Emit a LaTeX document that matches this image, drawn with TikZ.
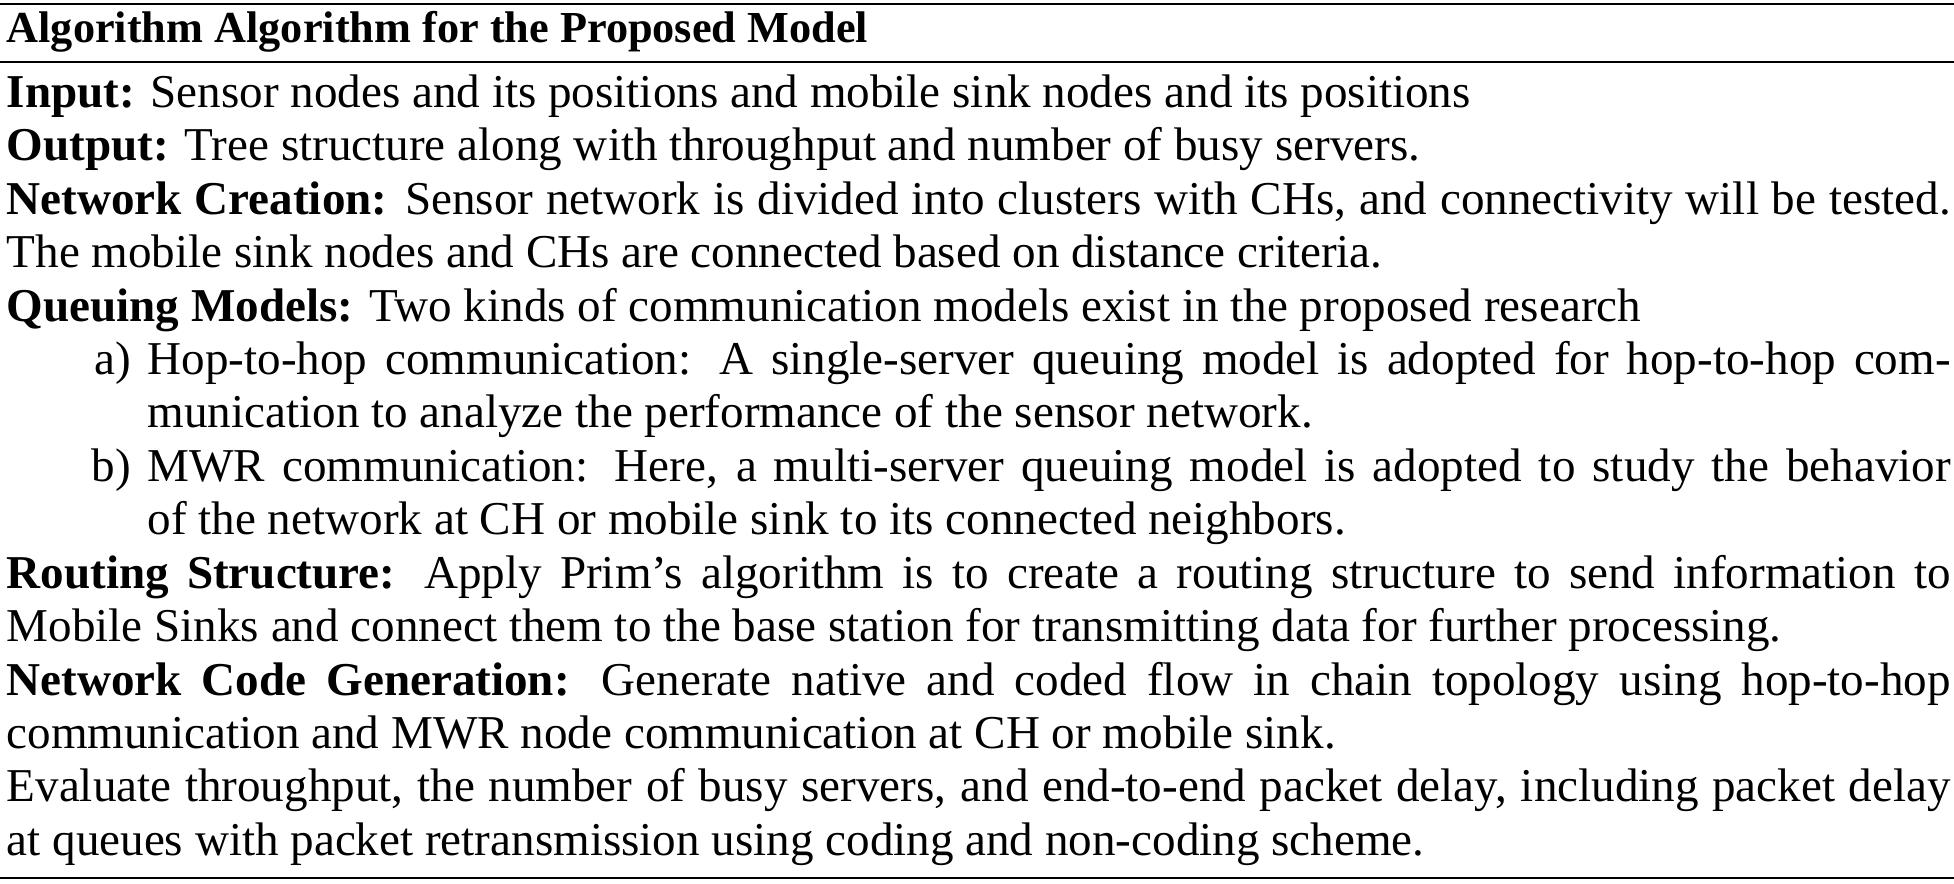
\documentclass[tikz,border=0pt]{standalone}
\usepackage{fontspec}
\setmainfont{Liberation Serif}
\begin{document}
\begin{tikzpicture}[rulel/.style={line width=0.8pt}, body/.style={anchor=north west, inner sep=0pt, text width=19.44cm, align=justify, font=\fontsize{13.4pt}{15.2pt}\selectfont}]
\useasboundingbox (0,0) rectangle (19.54,-8.83);
\coordinate (t1) at (0,-0.04); \coordinate (t2) at (19.54,-0.04);
\coordinate (m1) at (0,-0.62); \coordinate (m2) at (19.54,-0.62);
\coordinate (b1) at (0,-8.78); \coordinate (b2) at (19.54,-8.78);
\draw[rulel] (t1) -- (t2);
\draw[rulel] (m1) -- (m2);
\draw[rulel] (b1) -- (b2);
\node[anchor=base west, inner sep=0pt, font=\fontsize{12.6pt}{15pt}\selectfont\bfseries] (title) at (0.06,-0.42) {Algorithm Algorithm for the Proposed Model};
\node[body] (txt) at (0.06,-0.74) {%
\noindent\textbf{Input:} Sensor nodes and its positions and mobile sink nodes and its positions\par
\noindent\textbf{Output:} Tree structure along with throughput and number of busy servers.\par
\noindent\textbf{Network Creation:} Sensor network is divided into clusters with CHs, and connectivity will be tested. The mobile sink nodes and CHs are connected based on distance criteria.\par
\noindent\textbf{Queuing Models:} Two kinds of communication models exist in the proposed research\par
{\leftskip=1.41cm\noindent\llap{a)\hspace{0.17cm}}Hop-to-hop communication: A single-server queuing model is adopted for hop-to-hop com\-munication to analyze the performance of the sensor network.\par}
{\leftskip=1.41cm\noindent\llap{b)\hspace{0.17cm}}MWR communication: Here, a multi-server queuing model is adopted to study the behavior\linebreak of the network at CH or mobile sink to its connected neighbors.\par}
\noindent\textbf{Routing Structure:} Apply Prim's algorithm is to create a routing structure to send information to\linebreak Mobile Sinks and connect them to the base station for transmitting data for further processing.\par
\noindent\textbf{Network Code Generation:} Generate native and coded flow in chain topology using hop-to-hop\linebreak communication and MWR node communication at CH or mobile sink.\par
\noindent Evaluate throughput, the number of busy servers, and end-to-end packet delay, including packet delay at queues with packet retransmission using coding and non-coding scheme.\par};
\end{tikzpicture}
\end{document}
